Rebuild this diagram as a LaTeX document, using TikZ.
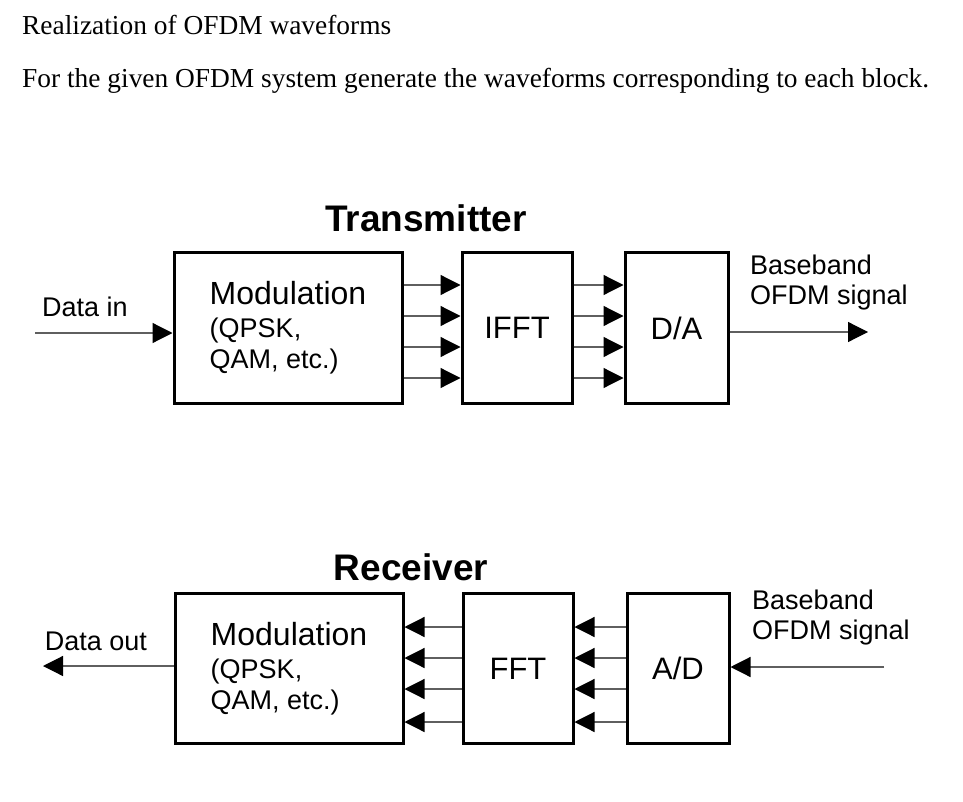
\documentclass[tikz,border=0pt]{standalone}
\usepackage{fontspec}
\setmainfont{Liberation Serif}
\setsansfont{Liberation Sans}
\usetikzlibrary{arrows.meta}
\definecolor{wire}{RGB}{95,95,95}
\tikzstyle{task}=[anchor=west,inner sep=0pt,font=\fontsize{27.4}{30}\selectfont]
\tikzstyle{heading}=[inner sep=0pt,font=\sffamily\bfseries\fontsize{37}{40}\selectfont]
\tikzstyle{block}=[draw,line width=3pt,minimum height=150pt,inner sep=0pt,font=\sffamily\fontsize{31}{34}\selectfont]
\tikzstyle{note}=[inner sep=0pt,align=left,font=\sffamily\fontsize{27}{30}\selectfont]
\tikzstyle{signal}=[-{Triangle[length=20pt,width=20pt,black]},line width=1.2pt,color=wire]
\newcommand{\modtext}{\fontsize{32}{35}\selectfont Modulation\\[-1pt]
  \fontsize{27}{30}\selectfont (QPSK,\\[-3pt]\fontsize{27}{30}\selectfont QAM, etc.)}

\begin{document}
\begin{tikzpicture}[x=1pt,y=-1pt]
  \useasboundingbox (0,0) rectangle (963,802);
  %% Task text
  \draw (22,25) node[task] (head) {Realization of OFDM waveforms};
  \draw (22,81) node[task] (ask) {For the given OFDM system generate the waveforms corresponding to each block.};

  %% Transmitter
  \draw (426,218) node[heading] (tx) {Transmitter};
  \draw (288,328) node[block,minimum width=228pt,align=left] (mod) {\modtext};
  \draw (517,328) node[block,minimum width=110pt] (ifft) {IFFT};
  \draw (676.5,328) node[block,minimum width=103pt] (da) {D/A};
  \draw (85,307) node[note] (din) {Data in};
  \draw (750,283) node[note,anchor=west] (bbtx) {Baseband\\OFDM signal};
  \coordinate (srcin) at (35,333);
  \coordinate (txout) at (868,332);

  \draw[signal] (srcin) -- (srcin -| mod.west);
  \foreach \y in {285,316,347,378} {
    \draw[signal] (mod.east |- 0,\y) -- (ifft.west |- 0,\y);
    \draw[signal] (ifft.east |- 0,\y) -- (da.west |- 0,\y);
  }
  \draw[signal] (da.east |- txout) -- (txout);

  %% Receiver
  \draw (411,567) node[heading] (rx) {Receiver};
  \draw (289,668.5) node[block,minimum width=228pt,align=left] (demod) {\modtext};
  \draw (518,668.5) node[block,minimum width=110pt] (fft) {FFT};
  \draw (678,668.5) node[block,minimum width=102pt] (ad) {A/D};
  \draw (96,641) node[note] (dout) {Data out};
  \draw (752,618) node[note,anchor=west] (bbrx) {Baseband\\OFDM signal};
  \coordinate (rxin) at (884,667);
  \coordinate (sinkout) at (43,666);

  \draw[signal] (rxin) -- (rxin -| ad.east);
  \foreach \y in {627,658,689,722} {
    \draw[signal] (ad.west |- 0,\y) -- (fft.east |- 0,\y);
    \draw[signal] (fft.west |- 0,\y) -- (demod.east |- 0,\y);
  }
  \draw[signal] (demod.west |- sinkout) -- (sinkout);
\end{tikzpicture}
\end{document}
